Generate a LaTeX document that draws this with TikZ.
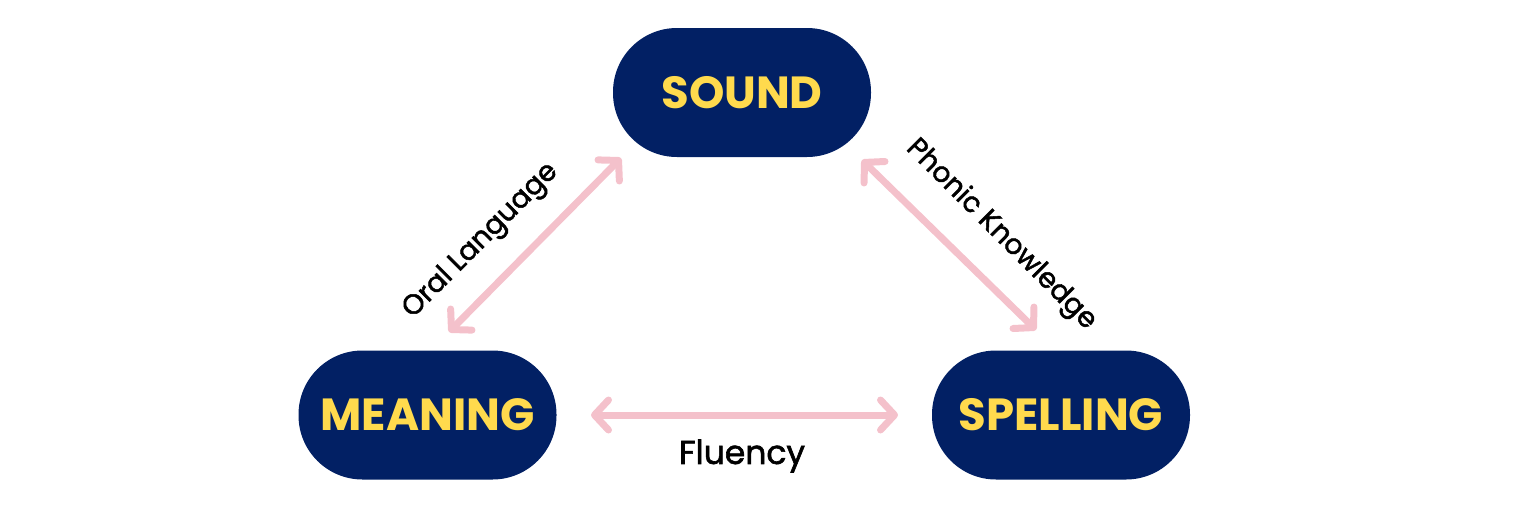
\documentclass[tikz,border=0pt]{standalone}
\usepackage{fontspec}
\setmainfont{Poppins}
\newfontfamily\medfont{Poppins}[FakeBold=1.8]
\usetikzlibrary{arrows.meta}
\definecolor{navy}{HTML}{022064}
\definecolor{gold}{HTML}{FFDA4D}
\definecolor{pinkline}{HTML}{F4C1CB}
\tikzset{
  pill/.style={draw=none, fill=navy, rounded corners=32pt, minimum width=129pt, minimum height=64.5pt, inner sep=0pt,
    text=gold, font=\bfseries\fontsize{22.5}{22.5}\selectfont},
  link/.style={draw=pinkline, line width=3.5pt, {Straight Barb[round,length=7pt,width=15pt]}-{Straight Barb[round,length=7pt,width=15pt]}},
  lbl/.style={text=black, font=\medfont\fontsize{14}{14}\selectfont, inner sep=0pt},
  lblbig/.style={lbl, font=\medfont\fontsize{16.5}{16.5}\selectfont}
}
\begin{document}
\begin{tikzpicture}[x=0.5pt,y=-0.5pt]
\useasboundingbox (0,0) rectangle (1536,514);
\node[pill] (sound) at (742,92.5) {SOUND};
\node[pill] (meaning) at (427.5,415) {MEANING};
\node[pill] (spelling) at (1061,415) {SPELLING};
\coordinate (a1) at (449,332);
\coordinate (a2) at (621,158);
\coordinate (b1) at (862,160);
\coordinate (b2) at (1036,330);
\coordinate (c1) at (591,415);
\coordinate (c2) at (898,415);
\draw[link] (a1) -- (a2);
\draw[link] (b1) -- (b2);
\draw[link] (c1) -- (c2);
\node[lbl, rotate=45] (oral) at (481,241) {Oral Language};
\node[lbl, rotate=-45] (phonic) at (1001,235) {Phonic Knowledge};
\node[lblbig] (fluency) at (742,456) {Fluency};
\end{tikzpicture}
\end{document}
